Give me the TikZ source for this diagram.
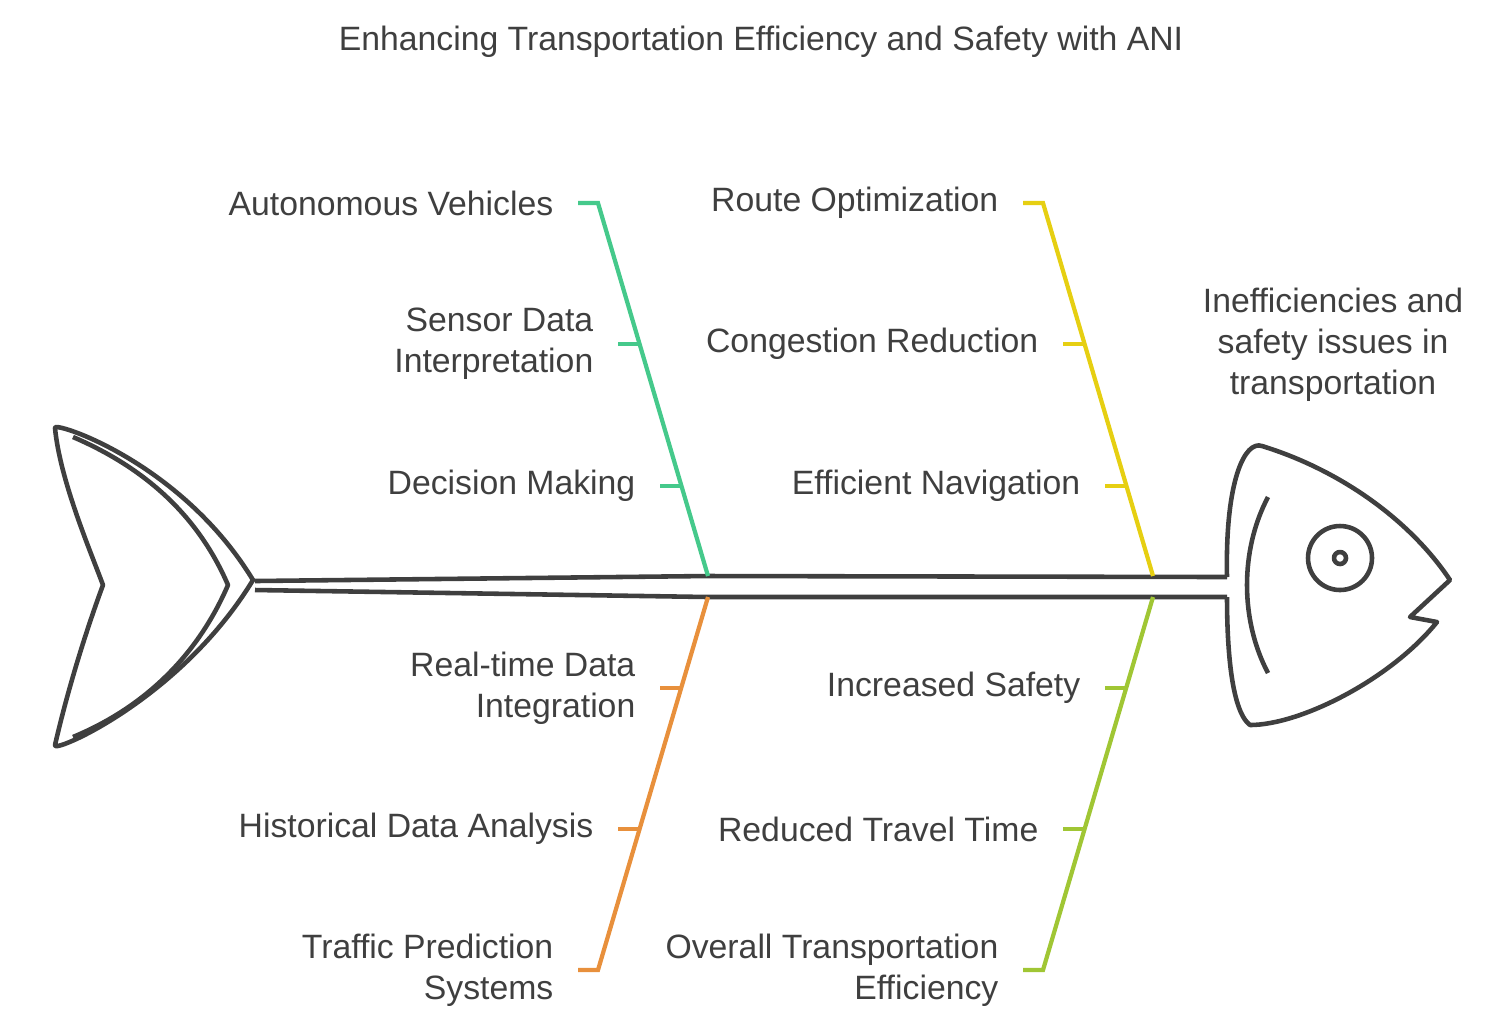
\documentclass[tikz,border=0pt]{standalone}
\usepackage{fontspec}
\setmainfont{Liberation Sans}
\usetikzlibrary{positioning}
\definecolor{ink}{HTML}{3F3F3F}
\definecolor{bgreen}{HTML}{45C98B}
\definecolor{byellow}{HTML}{E6CF12}
\definecolor{borange}{HTML}{E8903C}
\definecolor{blime}{HTML}{A0C634}
\tikzset{
  lbl/.style={text=ink, font=\fontsize{9.6}{11.7}\selectfont, align=right, anchor=east, inner sep=0pt},
  bone/.style={line width=1.2pt},
  outline/.style={ink, line width=1.3pt, line join=round}
}
\begin{document}
\begin{tikzpicture}[x=0.01cm,y=-0.01cm]
    \useasboundingbox (0,0) rectangle (1500,1032);
    % title
    \node[text=ink, font=\fontsize{9.6}{11}\selectfont] (title) at (761,42) {Enhancing Transportation Efficiency and Safety with ANI};

    % spine
    \draw[outline] (255,581) -- (708,576) -- (1227,577);
    \draw[outline] (255,590) -- (708,597) -- (1227,597);

    % tail
    \draw[outline] (55,428) .. controls (50,420) and (180,460) .. (253,580)
        .. controls (180,700) and (50,755) .. (55,745)
        .. controls (70,680) and (90,620) .. (103,585)
        .. controls (90,550) and (60,480) .. cycle;
    \draw[outline] (73,437) .. controls (150,470) and (200,520) .. (228,585)
        .. controls (200,650) and (150,705) .. (73,737);

    % head
    \draw[outline] (1227,577) .. controls (1225,480) and (1245,440) .. (1262,446)
        .. controls (1340,470) and (1410,520) .. (1450,580)
        -- (1410,617) -- (1437,622)
        .. controls (1390,680) and (1300,725) .. (1250,725)
        .. controls (1230,710) and (1227,640) .. (1227,597);
    \draw[outline] (1268,497) .. controls (1240,550) and (1240,620) .. (1268,673);
    \draw[outline] (1340,558) circle (32);
    \draw[outline] (1340,558) circle (6);
    \node[text=ink, font=\fontsize{9.6}{11.7}\selectfont, align=center] (problem) at (1333,345)
        {Inefficiencies and\\safety issues in\\transportation};

    % bone roots and ends
    \coordinate (g0) at (708,576);  \coordinate (g1) at (598,203);
    \coordinate (y0) at (1153,576); \coordinate (y1) at (1043,203);
    \coordinate (o0) at (708,597);  \coordinate (o1) at (598,970);
    \coordinate (l0) at (1153,597); \coordinate (l1) at (1043,970);
    \draw[bone, bgreen]  (g0) -- (g1) -- ++(-20,0);
    \draw[bone, byellow] (y0) -- (y1) -- ++(-20,0);
    \draw[bone, borange] (o0) -- (o1) -- ++(-20,0);
    \draw[bone, blime]   (l0) -- (l1) -- ++(-20,0);

    % green ticks
    \draw[bone, bgreen] (638,344) -- ++(-20,0) coordinate (g2);
    \draw[bone, bgreen] (680,486) -- ++(-20,0) coordinate (g3);
    \node[lbl, left=44 of g1] (auto) {Autonomous Vehicles};
    \node[lbl, left=24 of g2] (sensor) {Sensor Data\\Interpretation};
    \node[lbl, left=24 of g3] (decision) {Decision Making};

    % yellow ticks
    \draw[bone, byellow] (1083,344) -- ++(-20,0) coordinate (y2);
    \draw[bone, byellow] (1125,486) -- ++(-20,0) coordinate (y3);
    \node[lbl, left=44 of y1] (route) {Route Optimization};
    \node[lbl, left=24 of y2] (congestion) {Congestion Reduction};
    \node[lbl, left=24 of y3] (navigation) {Efficient Navigation};

    % orange ticks
    \draw[bone, borange] (680,688) -- ++(-20,0) coordinate (o2);
    \draw[bone, borange] (638,829) -- ++(-20,0) coordinate (o3);
    \node[lbl, left=24 of o2] (realtime) {Real-time Data\\Integration};
    \node[lbl, left=24 of o3] (historical) {Historical Data Analysis};
    \node[lbl, left=44 of o1] (prediction) {Traffic Prediction\\Systems};

    % lime ticks
    \draw[bone, blime] (1125,688) -- ++(-20,0) coordinate (l2);
    \draw[bone, blime] (1083,829) -- ++(-20,0) coordinate (l3);
    \node[lbl, left=24 of l2] (safety) {Increased Safety};
    \node[lbl, left=24 of l3] (travel) {Reduced Travel Time};
    \node[lbl, left=44 of l1] (overall) {Overall Transportation\\Efficiency};
\end{tikzpicture}
\end{document}
